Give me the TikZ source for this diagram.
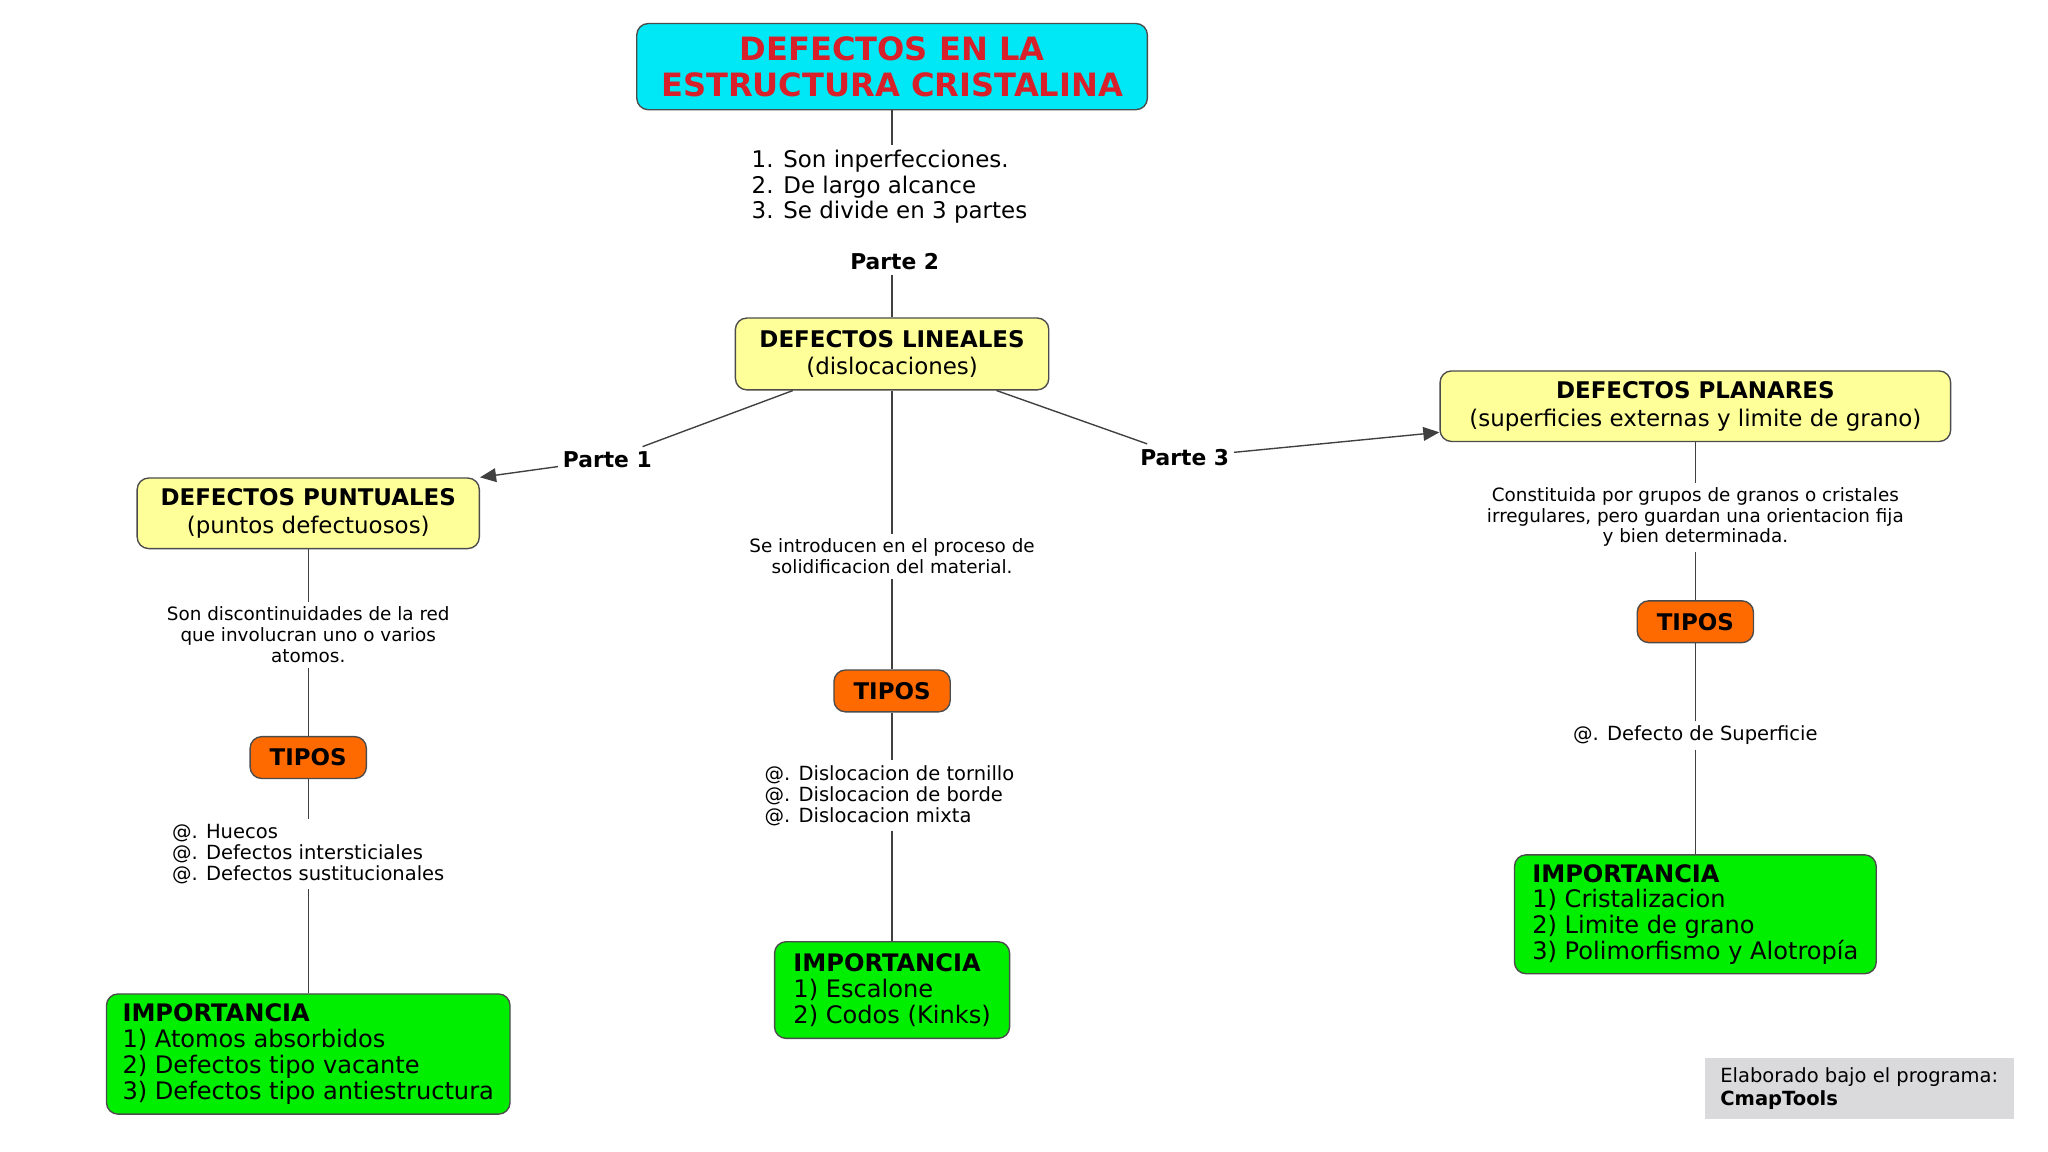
\documentclass[tikz,border=0pt]{standalone}
\usepackage{fontspec}
\setmainfont{DejaVu Sans}
\usetikzlibrary{arrows.meta}
\definecolor{tcyan}{HTML}{00E8F5}
\definecolor{tred}{HTML}{D8202A}
\definecolor{tyel}{HTML}{FFFF99}
\definecolor{torange}{HTML}{FF6A00}
\definecolor{tgreen}{HTML}{00EE00}
\definecolor{tgrey}{HTML}{DADADC}
\begin{document}
\begin{tikzpicture}[x=0.02cm,y=-0.02cm,
  box/.style={draw=black!70,line width=0.6pt,rounded corners=5pt,inner sep=0pt,align=center},
  yel/.style={box,fill=tyel,font=\fontsize{10}{12}\selectfont},
  tipos/.style={box,fill=torange,minimum width=1.78cm,minimum height=0.64cm,font=\bfseries\fontsize{10}{12}\selectfont},
  imp/.style={box,fill=tgreen,align=left,font=\fontsize{10.5}{11.2}\selectfont},
  lbl/.style={inner sep=2pt,font=\fontsize{8}{9}\selectfont,align=center},
  lst/.style={inner sep=2pt,font=\fontsize{8.5}{9.2}\selectfont,align=left},
  pt/.style={inner sep=2pt,font=\bfseries\fontsize{9.5}{11}\selectfont},
  ln/.style={draw=black!75,line width=0.6pt},
  arr/.style={ln,-{Triangle[length=7pt,width=6pt]}}]
\useasboundingbox (0,0) rectangle (1568,882);
\fill[white] (0,0) rectangle (1568,882);
% title
\node[box,fill=tcyan,minimum width=7.82cm,minimum height=1.32cm,text=tred,font=\bfseries\fontsize{14}{15.5}\selectfont] (title) at (683,51) {DEFECTOS EN LA\\ESTRUCTURA CRISTALINA};
\node[lst,font=\fontsize{10}{11.2}\selectfont] (intro) at (681,143) {1. Son inperfecciones.\\2. De largo alcance\\3. Se divide en 3 partes};
\node[pt] (p2) at (685,200) {Parte 2};
\node[yel,minimum width=4.8cm,minimum height=1.1cm] (lin) at (683,271) {\textbf{DEFECTOS LINEALES}\\(dislocaciones)};
\node[yel,minimum width=5.24cm,minimum height=1.08cm] (pun) at (236,393) {\textbf{DEFECTOS PUNTUALES}\\(puntos defectuosos)};
\node[yel,minimum width=7.82cm,minimum height=1.08cm] (pla) at (1298,311) {\textbf{DEFECTOS PLANARES}\\(superficies externas y limite de grano)};
\node[pt] (p1) at (465,352) {Parte 1};
\node[pt] (p3) at (907,350) {Parte 3};
\draw[ln] (title.south -| 683,0) -- (intro.north -| 683,0);
\draw[ln] (p2.south -| 683,0) -- (lin.north -| 683,0);
\draw[ln] (lin.south -| 607,0) -- (p1);
\draw[arr] (p1) -- (pun.north east);
\draw[ln] (lin.south -| 763,0) -- (p3);
\draw[arr] (p3) -- (pla.west |- 0,331);
% center chain
\node[lbl] (ct) at (683,426) {Se introducen en el proceso de\\solidificacion del material.};
\node[tipos] (ctp) at (683,529) {TIPOS};
\node[lst] (cl) at (681,609) {@. Dislocacion de tornillo\\@. Dislocacion de borde\\@. Dislocacion mixta};
\node[imp,minimum width=3.6cm,minimum height=1.48cm] (ci) at (683,758) {\hspace*{0.2cm}\textbf{IMPORTANCIA}\\\hspace*{0.2cm}1) Escalone\\\hspace*{0.2cm}2) Codos (Kinks)\hspace*{0.2cm}};
\draw[ln] (lin) -- (ct);
\draw[ln] (ct) -- (ctp);
\draw[ln] (ctp.south) -- (ctp.south |- cl.north);
\draw[ln] (cl.south -| ci.north) -- (ci.north);
% left chain
\node[lbl] (lt) at (236,486) {Son discontinuidades de la red\\que involucran uno o varios\\atomos.};
\node[tipos] (ltp) at (236,580) {TIPOS};
\node[lst] (ll) at (236,654) {@. Huecos\\@. Defectos intersticiales\\@. Defectos sustitucionales};
\node[imp,minimum width=6.18cm,minimum height=1.84cm] (li) at (236,807) {\hspace*{0.2cm}\textbf{IMPORTANCIA}\\\hspace*{0.2cm}1) Atomos absorbidos\\\hspace*{0.2cm}2) Defectos tipo vacante\\\hspace*{0.2cm}3) Defectos tipo antiestructura\hspace*{0.2cm}};
\draw[ln] (pun) -- (lt);
\draw[ln] (lt) -- (ltp);
\draw[ln] (ltp.south) -- (ltp.south |- ll.north);
\draw[ln] (ll.south -| li.north) -- (li.north);
% right chain
\node[lbl] (rt) at (1298,396) {Constituida por grupos de granos o cristales\\irregulares, pero guardan una orientacion fija\\y bien determinada.};
\node[tipos] (rtp) at (1298,476) {TIPOS};
\node[lst] (rl) at (1298,563) {@. Defecto de Superficie};
\node[imp,minimum width=5.54cm,minimum height=1.82cm] (ri) at (1298,700) {\hspace*{0.2cm}\textbf{IMPORTANCIA}\\\hspace*{0.2cm}1) Cristalizacion\\\hspace*{0.2cm}2) Limite de grano\\\hspace*{0.2cm}3) Polimorfismo y Alotropía\hspace*{0.2cm}};
\draw[ln] (pla) -- (rt);
\draw[ln] (rt) -- (rtp);
\draw[ln] (rtp) -- (rl);
\draw[ln] (rl) -- (ri);
% footer
\node[fill=tgrey,minimum width=4.74cm,minimum height=0.94cm,align=left,inner sep=0pt,font=\fontsize{8.5}{10}\selectfont] (ft) at (1423.5,833.5) {Elaborado bajo el programa:\\\textbf{CmapTools}\hspace*{1.4cm}};
\end{tikzpicture}
\end{document}
